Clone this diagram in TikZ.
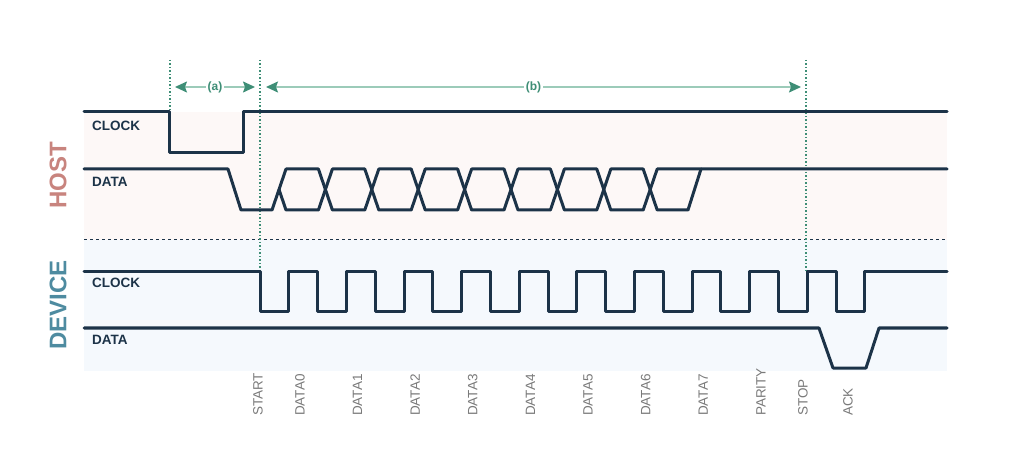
\documentclass[tikz,border=0pt]{standalone}
\usepackage{fontspec}
\setmainfont{Liberation Sans}
\usetikzlibrary{positioning,calc,arrows.meta}

\definecolor{navy}{HTML}{1C3348}
\definecolor{hostbg}{HTML}{FDF8F7}
\definecolor{devbg}{HTML}{F5F9FD}
\definecolor{hostred}{HTML}{C8847E}
\definecolor{devblue}{HTML}{4E8BA0}
\definecolor{tealD}{HTML}{3E8E76}
\definecolor{tealL}{HTML}{9CCBB9}
\definecolor{tickgray}{HTML}{7A7A7A}

\tikzset{
	signal/.style={draw=navy, line width=3pt, line join=round, line cap=round},
	marker/.style={draw=tealD, line width=1.2pt, dash pattern=on 1.5pt off 2pt},
	dimarrow/.style={draw=tealL, line width=1.6pt, {Stealth[length=12pt,width=11pt,inset=2pt,color=tealD]}-{Stealth[length=12pt,width=11pt,inset=2pt,color=tealD]}},
	dimlabel/.style={fill=white, text=tealD, inner sep=2pt, font=\fontsize{12}{14}\selectfont\bfseries},
	siglabel/.style={anchor=west, inner sep=0pt, text=navy, font=\fontsize{13.5}{15}\selectfont\bfseries},
	tickname/.style={rotate=90, anchor=west, inner sep=0pt, text=tickgray, font=\fontsize{13.5}{15}\selectfont},
	sidename/.style={rotate=90, inner sep=0pt, font=\fontsize{24}{26}\selectfont\bfseries}
}

\begin{document}
\begin{tikzpicture}[x=1pt, y=-1pt]
	\useasboundingbox (0,0) rectangle (1020,454);

	% panels
	\fill[hostbg] (84,112) rectangle (947,240);
	\fill[devbg] (84,240) rectangle (947,371);
	\draw[navy, line width=1pt, dash pattern=on 3pt off 3pt] (84,240) -- (947,240);

	% marker lines
	\coordinate (ma) at (170,60);
	\coordinate (mb) at (260,60);
	\coordinate (mc) at (806,60);
	\draw[marker] (ma) -- (170,112);
	\draw[marker] (mb) -- (260,272);
	\draw[marker] (mc) -- (806,272);

	% intervals
	\coordinate (a1) at (175,87);
	\coordinate (a2) at (255,87);
	\coordinate (b1) at (266,87);
	\coordinate (b2) at (801,87);
	\draw[dimarrow] (a1) -- node[dimlabel] {(a)} (a2);
	\draw[dimarrow] (b1) -- node[dimlabel] {(b)} (b2);

	% host clock
	\draw[signal] (84,112) -- (169,112) -- (169,153) -- (243,153) -- (243,112) -- (947,112);

	% host data
	\draw[signal] (84,169) -- (228,169) -- (241,210) -- (272,210) -- (286,169)
		foreach \k in {1,3,5,7} {
			-- ({279+46.4*\k-7},169) -- ({279+46.4*\k+7},210)
			-- ({279+46.4*(\k+1)-7},210) -- ({279+46.4*(\k+1)+7},169)
		} -- (947,169);
	\draw[signal] (279,189.5) -- (286,210)
		foreach \k in {1,3,5,7} {
			-- ({279+46.4*\k-7},210) -- ({279+46.4*\k+7},169)
			-- ({279+46.4*(\k+1)-7},169) -- ({279+46.4*(\k+1)+7},210)
		} -- (688,210) -- (701,169);

	% device clock
	\draw[signal] (84,272) -- (260,272) -- (260,312)
		foreach \k in {0,...,9} {
			-- ({288.8+57.6*\k},312) -- ({288.8+57.6*\k},272)
			-- ({317.6+57.6*\k},272) -- ({317.6+57.6*\k},312)
		} -- (864,312) -- (864,272) -- (947,272);

	% device data
	\draw[signal] (84,328) -- (819,328) -- (833,368) -- (866,368) -- (879,328) -- (947,328);

	% labels
	\node[sidename, text=hostred] (host) at (58,175) {HOST};
	\node[sidename, text=devblue] (device) at (58,305) {DEVICE};
	\node[siglabel] (hclk) at (92,125.5) {CLOCK};
	\node[siglabel] (hdat) at (92,182) {DATA};
	\node[siglabel] (dclk) at (92,283) {CLOCK};
	\node[siglabel] (ddat) at (92,340) {DATA};

	\node[tickname] (start) at (258,416) {START};
	\foreach \i in {0,...,7}
		\node[tickname] (data\i) at ({300+57.6*\i},416) {DATA\i};
	\node[tickname] (parity) at (761,416) {PARITY};
	\node[tickname] (stop) at (803,416) {STOP};
	\node[tickname] (ack) at (848,416) {ACK};
\end{tikzpicture}
\end{document}
